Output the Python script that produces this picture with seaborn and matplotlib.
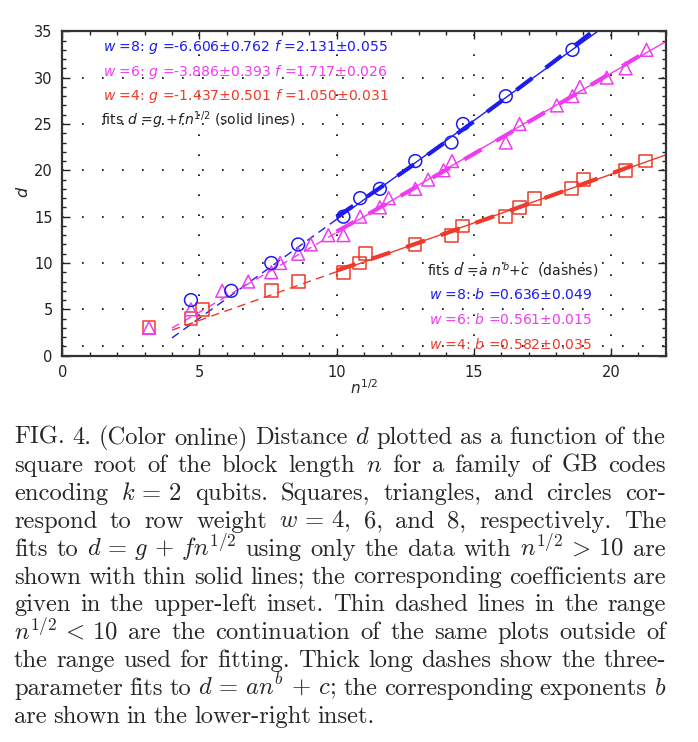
import re
import numpy as np
import pandas as pd
import matplotlib
matplotlib.use("Agg")
import matplotlib.pyplot as plt
from matplotlib.ticker import MultipleLocator
import seaborn as sns

# Data: x = n^(1/2), y = distance d
sqrt_n_w4 = [3.16, 4.69, 5.10, 7.62, 8.60, 10.24, 10.85, 11.06, 12.86, 14.19,
             14.60, 16.15, 16.66, 17.23, 18.56, 19.01, 20.53, 21.26]
d_w4 = [3, 4, 5, 7, 8, 9, 10, 11, 12, 13, 14, 15, 16, 17, 18, 19, 20, 21]

sqrt_n_w6 = [3.16, 4.69, 5.83, 6.78, 7.62, 7.94, 8.60, 9.06, 9.70, 10.25,
             10.86, 11.58, 11.90, 12.87, 13.34, 13.90, 14.21, 16.17, 16.67, 18.03,
             18.60, 18.87, 19.85, 20.54, 21.30]
d_w6 = [3, 5, 7, 8, 9, 10, 11, 12, 13, 13, 15, 16, 17, 18, 19, 20, 21, 23, 25, 27,
        28, 29, 30, 31, 33]

sqrt_n_w8 = [4.69, 6.16, 7.62, 8.60, 10.25, 10.86, 11.58, 12.87, 14.19, 14.61, 16.17, 18.60]
d_w8 = [6, 7, 10, 12, 15, 17, 18, 21, 23, 25, 28, 33]

# fit coefficients printed in the insets
weights = [8, 6, 4]
g_fit = [-6.606, -3.886, -1.437]
g_err = [0.762, 0.393, 0.501]
f_fit = [2.131, 1.717, 1.050]
f_err = [0.055, 0.026, 0.031]
b_fit = [0.636, 0.561, 0.582]
b_err = [0.049, 0.015, 0.035]

colors = {8: "#1c1cf0", 6: "#f03cf0", 4: "#ee3a2a"}
markers = {8: "o", 6: "^", 4: "s"}

caption = [
    r"FIG. 4. (Color online) Distance $d$ plotted as a function of the",
    r"square root of the block length $n$ for a family of GB codes",
    r"encoding $k\,=\,2$ qubits.  Squares, triangles, and circles cor-",
    r"respond to row weight $w\,=\,4$, 6, and 8, respectively.  The",
    r"fits to $d\,=\,g\,+\,fn^{1/2}$ using only the data with $n^{1/2}\,>\,10$ are",
    r"shown with thin solid lines; the corresponding coefficients are",
    r"given in the upper-left inset. Thin dashed lines in the range",
    r"$n^{1/2}\,<\,10$ are the continuation of the same plots outside of",
    r"the range used for fitting. Thick long dashes show the three-",
    r"parameter fits to $d\,=\,an^b\,+\,c$; the corresponding exponents $b$",
    r"are shown in the lower-right inset.",
]

df = pd.concat([
    pd.DataFrame({"x": sqrt_n_w4, "d": d_w4, "w": 4}),
    pd.DataFrame({"x": sqrt_n_w6, "d": d_w6, "w": 6}),
    pd.DataFrame({"x": sqrt_n_w8, "d": d_w8, "w": 8}),
])

sns.set_style("ticks")
plt.rcParams["font.family"] = ["DejaVu Sans"]
plt.rcParams["mathtext.fontset"] = "dejavusans"

W, H = 698, 742
fig = plt.figure(figsize=(W / 100, H / 100), dpi=100)
ax = fig.add_axes([62.3 / W, 1 - 355.7 / H, 603.4 / W, 324.4 / H])

# fitted lines
x_thin = np.linspace(4, 10, 40)
x_solid = np.linspace(10, 22, 60)
x_thick = np.linspace(10, 21.3, 100)
for w, g, f, b in zip(weights, g_fit, f_fit, b_fit):
    c = colors[w]
    ax.plot(x_thin, g + f * x_thin, color=c, lw=1, dashes=(6, 4))
    ax.plot(x_solid, g + f * x_solid, color=c, lw=1)
    sub = df[(df.w == w) & (df.x > 10)]
    a, cc = np.polyfit(sub.x.values ** (2 * b), sub.d.values, 1)
    ax.plot(x_thick, a * x_thick ** (2 * b) + cc, color=c, lw=3, dashes=(4.8, 4))

sns.scatterplot(data=df, x="x", y="d", hue="w", style="w", palette=colors,
                markers=markers, s=85, legend=False, ax=ax, zorder=5)
for coll in ax.collections:
    fc = coll.get_facecolors()
    coll.set_edgecolors(fc)
    coll.set_facecolors("none")
    coll.set_linewidths(1.1)

ax.set_xlim(0, 22)
ax.set_ylim(0, 35)
ax.set_xticks(range(0, 21, 5))
ax.set_yticks(range(0, 36, 5))
ax.xaxis.set_minor_locator(MultipleLocator(1))
ax.yaxis.set_minor_locator(MultipleLocator(1))
ax.tick_params(which="both", direction="in", top=True, right=True,
               color="#222222", width=1)
ax.tick_params(which="major", length=5.5, labelsize=10.5, labelcolor="#222222", pad=7)
ax.tick_params(which="minor", length=3)
for s in ax.spines.values():
    s.set_linewidth(1.6)
    s.set_color("#333333")
ax.grid(True, which="major", color="k", lw=1.2, linestyle=(0, (1, 11)))
ax.axhline(1.1, color="k", lw=1.2, linestyle=(0, (1, 11)), zorder=0)

ax.set_xlabel(r"$n^{1/2}$", fontsize=11)
ax.xaxis.set_label_coords((364 - 62.3) / 603.4, -(378 - 355.7) / 324.4)
ax.set_ylabel(r"$d$", fontsize=11.5)
ax.yaxis.set_label_coords(-(62.3 - 31) / 603.4, (355.7 - 192) / 324.4)


def px(x, y):
    return (x - 62.3) / 27.43, (355.7 - y) / 9.269


fs = 10.1
for i, w in enumerate(weights):
    txt = (r"$w$ =%d: $g$ =%.3f±%.3f $f$ =%.3f±%.3f"
           % (w, g_fit[i], g_err[i], f_fit[i], f_err[i]))
    ax.text(*px(102.7, 51 + 24.7 * i), txt, color=colors[w], fontsize=fs, va="baseline")
ax.text(*px(100.7, 125), r"fits $d$ =$g$ +$f\,n^{1/2}$ (solid lines)", color="#222222",
        fontsize=fs, va="baseline")

ax.text(*px(426.7, 275), r"fits $d$ =$a$ $n^{\,b}$+$c$  (dashes)", color="#222222",
        fontsize=fs, va="baseline")
for i, w in enumerate(weights):
    txt = r"$w$ =%d: $b$ =%.3f±%.3f" % (w, b_fit[i], b_err[i])
    ax.text(*px(429, 299 + 25 * i), txt, color=colors[w], fontsize=fs, va="baseline")

# justified caption
left, right = 14, 666
renderer = fig.canvas.get_renderer()
for i, line in enumerate(caption):
    y = 1 - (444 + 27.9 * i) / H
    toks = re.findall(r"(?:\$[^$]*\$|[^\s$])+", line)
    texts = [fig.text(0, y, t, family="cmr10", math_fontfamily="cm", fontsize=17.7,
                      va="baseline", ha="left") for t in toks]
    widths = [t.get_window_extent(renderer).width for t in texts]
    if i < len(caption) - 1:
        gap = (right - left - sum(widths)) / (len(toks) - 1)
    else:
        gap = 6.5
    xpos = left
    for t, wd in zip(texts, widths):
        t.set_x(xpos / W)
        xpos += wd + gap

fig.savefig("out.png", dpi=100)
